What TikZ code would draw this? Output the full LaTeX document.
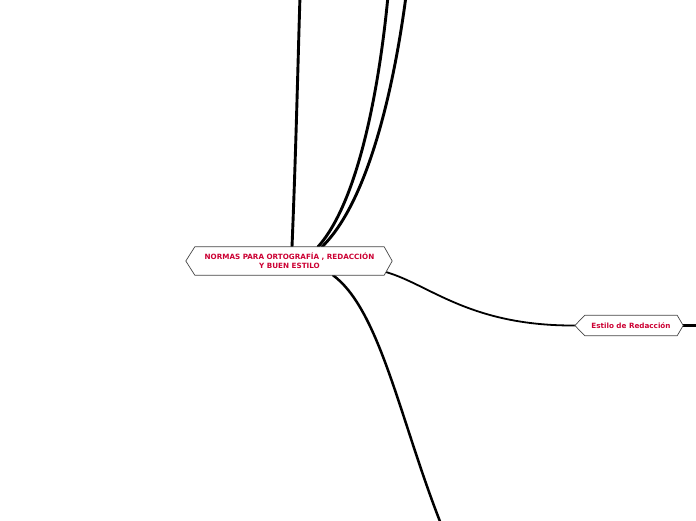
\documentclass[tikz,border=0pt]{standalone}
\usepackage{fontspec}
\setmainfont{DejaVu Sans}
\usetikzlibrary{backgrounds}
\definecolor{topicred}{RGB}{204,0,51}
\definecolor{bordergray}{RGB}{70,70,70}
\tikzset{
  topic/.style={rectangle, draw=none, inner sep=0pt, align=center,
    text=topicred, font=\fontsize{7.2}{9}\selectfont\bfseries},
  hexborder/.style={draw=bordergray, line width=0.7pt, fill=white},
  branch/.style={draw=black, line width=2.9pt, line cap=round},
  thinbranch/.style={draw=black, line width=1.8pt, line cap=round}
}
\begin{document}
\begin{tikzpicture}[x=1pt,y=-1pt]
\useasboundingbox (0,0) rectangle (696,520);
% nodes
\node[topic, minimum width=189pt, minimum height=28pt] (main) at (289.5,261)
  {NORMAS PARA ORTOGRAFÍA , REDACCIÓN\\Y BUEN ESTILO};
\node[topic, minimum width=92pt, minimum height=20pt] (estilo) at (631,325.5)
  {Estilo de Redacción};
% free ends
\coordinate (e1) at (300,-4);
\coordinate (e2) at (388,-4);
\coordinate (e3) at (406,-4);
\coordinate (e4) at (441,524);
\coordinate (e6) at (700,325.5);
% hexagon borders
\draw[hexborder] (main.north west) -- (main.north east) -- ([xshift=8pt]main.east)
  -- (main.south east) -- (main.south west) -- ([xshift=-9pt]main.west) -- cycle;
\draw[hexborder] (estilo.north west) -- (estilo.north east) -- ([xshift=6pt]estilo.east)
  -- (estilo.south east) -- (estilo.south west) -- ([xshift=-10pt]estilo.west) -- cycle;
\node[topic] at (main.center) {NORMAS PARA ORTOGRAFÍA , REDACCIÓN\\Y BUEN ESTILO};
\node[topic] at (estilo.center) {Estilo de Redacción};
% connectors
\begin{scope}[on background layer]
\draw[branch] ([xshift=2.5pt]main.north) .. controls (296,150) and (298,60) .. (e1);
\draw[branch] ([xshift=28.5pt]main.north) .. controls (360,200) and (380,80) .. (e2);
\draw[branch] ([xshift=32.5pt]main.north) .. controls (370,200) and (395,80) .. (e3);
\draw[branch, line width=2.5pt] ([xshift=43.5pt]main.south) .. controls (380,310) and (400,420) .. (e4);
\draw[thinbranch] ([xshift=97pt,yshift=3pt]main.south) .. controls (430,285) and (470,326) .. ([xshift=-10pt]estilo.west);
\draw[branch, line width=2.2pt] ([xshift=6pt]estilo.east) -- (e6);
\end{scope}
\end{tikzpicture}
\end{document}
